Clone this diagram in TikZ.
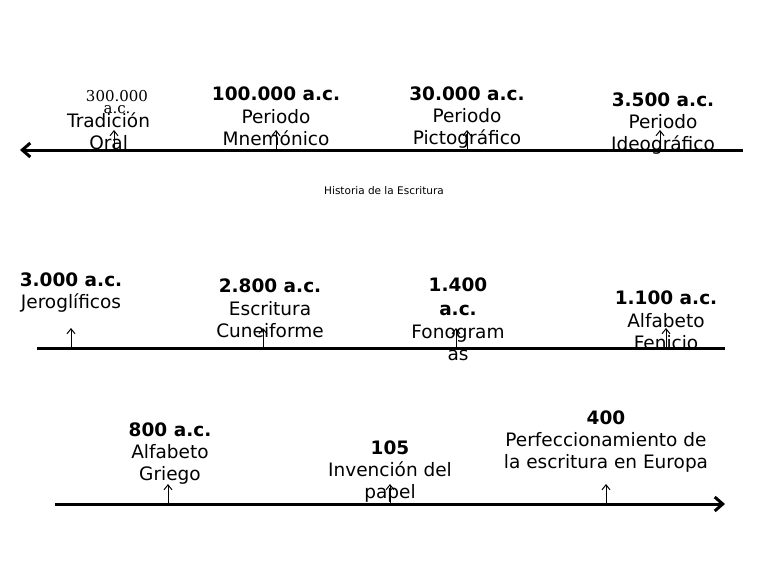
\documentclass[tikz,border=0pt]{standalone}
\usepackage{fontspec}
\setmainfont{DejaVu Sans}
\newfontfamily\serf{DejaVu Serif}
\usetikzlibrary{arrows.meta}
\begin{document}
\begin{tikzpicture}[x=1pt,y=-1pt,
  main/.style={line width=3pt},
  tick/.style={line width=1pt,-{Straight Barb[length=5pt,width=8pt]}},
  lbl/.style={align=center,font=\fontsize{18.5}{22}\selectfont,inner sep=0pt},
  yr/.style={font=\bfseries\fontsize{18.5}{22}\selectfont,inner sep=0pt}]
\useasboundingbox (0,0) rectangle (768,576);
\coordinate (a1) at (20,150); \coordinate (b1) at (743,150);
\draw[main,{Straight Barb[length=8pt,width=14pt]}-] (a1) -- (b1);
\coordinate (a2) at (37,348); \coordinate (b2) at (725,348);
\draw[main] (a2) -- (b2);
\coordinate (a3) at (55,504); \coordinate (b3) at (725,504);
\draw[main,-{Straight Barb[length=8pt,width=14pt]}] (a3) -- (b3);
\foreach \x/\y [count=\i] in {114/150,276/150,467/150,660/150,71/348,263/348,456/348,666/348,168/504,390/504,606/504}{
  \coordinate (t\i) at (\x,\y); \coordinate (u\i) at (\x,\y-20);
  \draw[tick] (t\i) -- (u\i);}
\node[inner sep=0pt,font=\serf\fontsize{15}{12}\selectfont,align=center] (n1) at (117,102) {300.000\\a.c.};
\node[lbl,anchor=north west] (l1) at (67,112) {Tradición\\Oral};
\node[yr] (y2) at (276,94) {100.000 a.c.};
\node[lbl] (l2) at (276,128) {Periodo\\Mnemónico};
\node[yr] (y3) at (467,94) {30.000 a.c.};
\node[lbl] (l3) at (467,128) {Periodo\\Pictográfico};
\node[yr] (y4) at (663,100) {3.500 a.c.};
\node[lbl] (l4) at (663,134) {Periodo\\Ideográfico};
\node[inner sep=0pt,font=\fontsize{10.5}{11}\selectfont] (h) at (384,191) {Historia de la Escritura};
\node[yr] (y5) at (71,280) {3.000 a.c.};
\node[lbl] (l5) at (71,303) {Jeroglíficos};
\node[yr] (y6) at (270,286) {2.800 a.c.};
\node[lbl] (l6) at (270,320) {Escritura\\Cuneiforme};
\node[yr,align=center,font=\bfseries\fontsize{18.5}{24}\selectfont] (y7) at (458,297) {1.400\\a.c.};
\node[lbl,font=\fontsize{18.5}{22}\selectfont] (l7) at (458,343) {Fonogram\\as};
\node[yr] (y8) at (666,298) {1.100 a.c.};
\node[lbl] (l8) at (666,332) {Alfabeto\\Fenicio};
\node[yr] (y9) at (170,430) {800 a.c.};
\node[lbl] (l9) at (170,464) {Alfabeto\\Griego};
\node[yr] (y10) at (390,448) {105};
\node[lbl] (l10) at (390,482) {Invención del\\papel};
\node[yr] (y11) at (606,418) {400};
\node[lbl] (l11) at (606,452) {Perfeccionamiento de\\la escritura en Europa};
\end{tikzpicture}
\end{document}
